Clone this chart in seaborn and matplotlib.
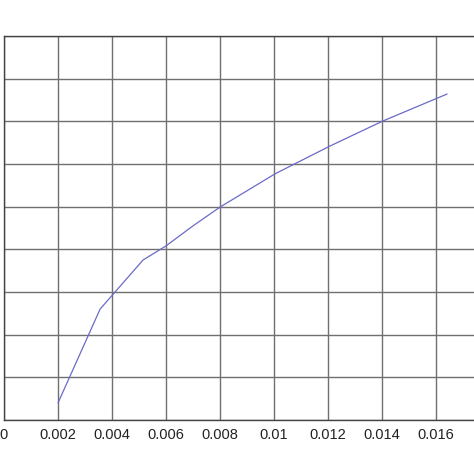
import pandas as pd
import matplotlib.pyplot as plt
import seaborn as sns

# values (y in grid units)
strain = [0.002, 0.00356, 0.00515, 0.006, 0.007, 0.008, 0.01004, 0.01207, 0.01404, 0.01641]
stress = [0.40, 2.60, 3.75, 4.08, 4.55, 4.99, 5.77, 6.42, 7.01, 7.64]
x_ticks = [0, 0.002, 0.004, 0.006, 0.008, 0.01, 0.012, 0.014, 0.016]
x_labels = ['0', '0.002', '0.004', '0.006', '0.008', '0.01', '0.012', '0.014', '0.016']
y_ticks = list(range(10))

df = pd.DataFrame({'strain': strain, 'stress': stress})

sns.set_style('white')
plt.rcParams['font.family'] = ['Liberation Sans', 'DejaVu Sans']

fig = plt.figure(figsize=(4.74, 4.74), dpi=100)
# axes runs past the left/right edges like the cropped original
ax = fig.add_axes([4 / 474, 54 / 474, 486 / 474, 384 / 474])

sns.lineplot(data=df, x='strain', y='stress', ax=ax, color='#6a6ac8', linewidth=0.9)

ax.set_xlim(0, 0.018)
ax.set_ylim(0, 9)
ax.set_xticks(x_ticks)
ax.set_xticklabels(x_labels)
ax.set_yticks(y_ticks)
ax.set_yticklabels([])
ax.set_xlabel('')
ax.set_ylabel('')
ax.grid(True, color='#707070', linewidth=1.0)
ax.tick_params(direction='in', length=4, labelsize=10.5, colors='#222222', pad=6)
for s in ax.spines.values():
    s.set_color('#444444')
    s.set_linewidth(1.0)

fig.savefig('out.png', dpi=100)
